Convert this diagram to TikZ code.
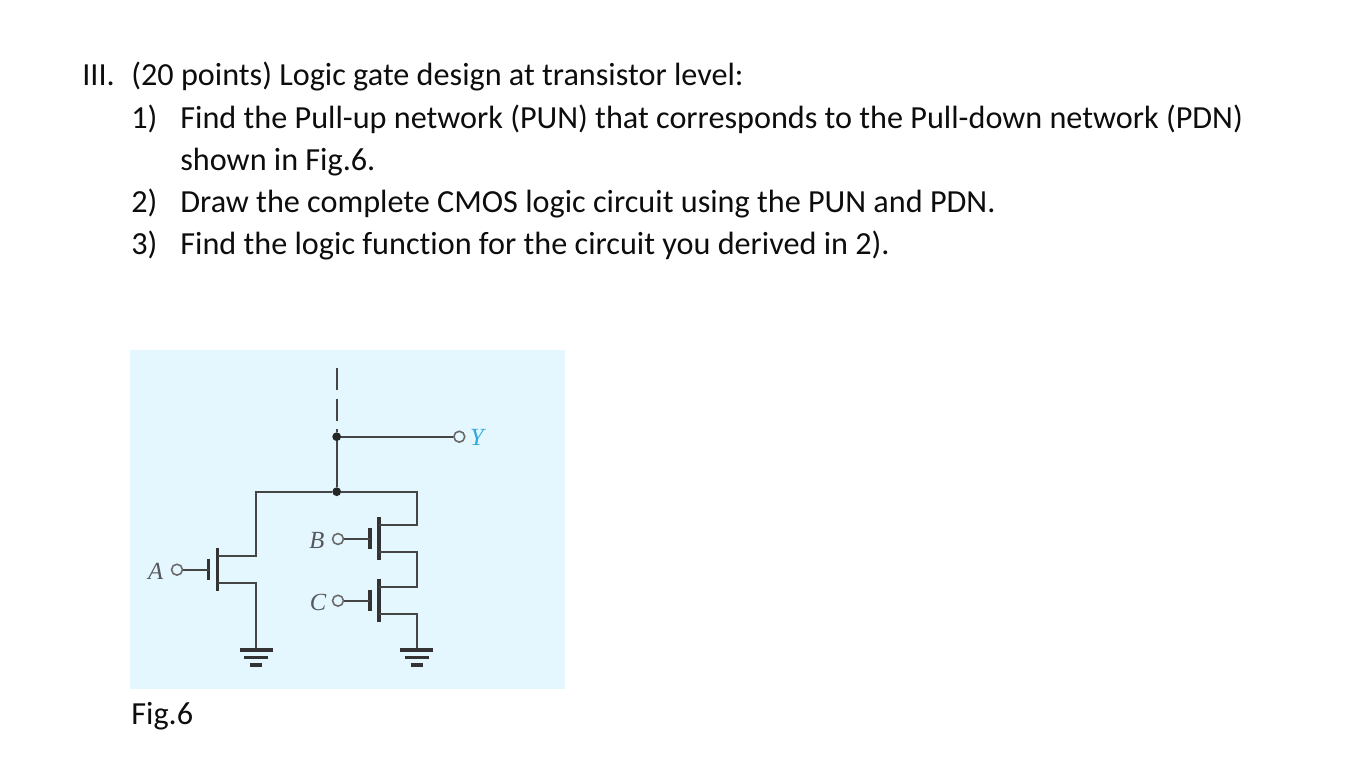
\documentclass[tikz,border=0pt]{standalone}
\usepackage{fontspec}
\setmainfont[Ligatures=NoCommon]{Carlito}
\newfontfamily\labelfont{Liberation Serif}
\usetikzlibrary{calc}
\definecolor{panelblue}{HTML}{E4F6FE}
\definecolor{wiregray}{HTML}{454545}
\definecolor{labelgray}{HTML}{55595D}
\definecolor{outcyan}{HTML}{2FA9DC}
\tikzset{
  txt/.style={anchor=base west, inner sep=0pt, font=\fontsize{18.33}{20}\selectfont, text=black!95},
  wire/.style={draw=wiregray, line width=0.95pt},
  thickbar/.style={draw=black!80, line width=2pt},
  pinc/.style={circle, draw=wiregray!80, fill=panelblue, line width=0.9pt, minimum size=6.2pt, inner sep=0pt},
  joint/.style={circle, fill=black!85, minimum size=5pt, inner sep=0pt},
  sig/.style={inner sep=0pt, font=\labelfont\itshape\fontsize{14}{16}\selectfont, text=labelgray},
}
\begin{document}
\begin{tikzpicture}[x=0.02cm, y=-0.02cm]
  \useasboundingbox (0,0) rectangle (1350,760);
  \fill[panelblue] (130,350) rectangle (565,689);

  % Question text.
  \node[txt] (qnum) at (82,86) {III.};
  \node[txt] (qhead) at (131,86) {(20 points) Logic gate design at transistor level:};
  \node[txt] (n1) at (131,129) {1)};
  \node[txt] (t1) at (180,129) {Find the Pull-up network (PUN) that corresponds to the Pull-down network (PDN)};
  \node[txt] (t1b) at (180,171) {shown in Fig.6.};
  \node[txt] (n2) at (131,213) {2)};
  \node[txt] (t2) at (180,213) {Draw the complete CMOS logic circuit using the PUN and PDN.};
  \node[txt] (n3) at (131,255) {3)};
  \node[txt] (t3) at (180,255) {Find the logic function for the circuit you derived in 2).};
  \node[txt] (figcap) at (131,724) {Fig.6};

  % Transistors: name / channel x / gate y / input pin x.
  \foreach \tname/\cx/\gy/\px in {A/217.7/569.7/177, B/379/539/338, C/379/600.7/338} {
    \coordinate (\tname chtop) at (\cx,\gy-22);
    \coordinate (\tname chbot) at (\cx,\gy+21);
    \coordinate (\tname gtop) at (\cx-9,\gy-11);
    \coordinate (\tname gbot) at (\cx-9,\gy+10);
    \coordinate (\tname gmid) at (\cx-9,\gy);
    \coordinate (\tname d) at (\cx,\gy-14);
    \coordinate (\tname s) at (\cx,\gy+13);
    \node[pinc] (\tname pin) at (\px,\gy) {};
    \draw[thickbar] (\tname chtop) -- (\tname chbot);
    \draw[thickbar] (\tname gtop) -- (\tname gbot);
    \draw[wire] (\tname pin) -- (\tname gmid);
  }
  \node[sig] (Alabel) at (155.7,571) {A};
  \node[sig] (Blabel) at (317,540) {B};
  \node[sig] (Clabel) at (318,602) {C};

  % Output and junctions.
  \coordinate (vtop) at (336.7,368);
  \node[joint] (jout) at (336.7,436.7) {};
  \node[joint] (jnet) at (336.7,491.7) {};
  \node[pinc] (ypin) at (459.3,436.7) {};
  \node[sig, text=outcyan] (Ylabel) at (477,437) {Y};
  \coordinate (ltop) at (256,491.7);
  \coordinate (rtop) at (416.7,491.7);
  \coordinate (gndl) at (256,650);
  \coordinate (gndr) at (416.7,650);

  % Wires.
  \draw[wire, dash pattern=on 12.5pt off 5pt] (vtop) -- (jout);
  \draw[wire] (jout) -- (jnet);
  \draw[wire] (jout) -- (ypin);
  \draw[wire] (Ad) -| (ltop) -- (jnet) -- (rtop) |- (Bd);
  \draw[wire] (Bs) -| ($(Bs)+(37.7,0)$) |- (Cd);
  \draw[wire] (As) -| (gndl);
  \draw[wire] (Cs) -| (gndr);

  % Grounds.
  \foreach \gnd in {gndl, gndr} {
    \draw[thickbar] ($(\gnd)+(-16.5,0)$) -- ($(\gnd)+(16.5,0)$);
    \draw[thickbar] ($(\gnd)+(-12,7.7)$) -- ($(\gnd)+(12,7.7)$);
    \draw[thickbar] ($(\gnd)+(-6,15)$) -- ($(\gnd)+(6,15)$);
  }
\end{tikzpicture}
\end{document}
